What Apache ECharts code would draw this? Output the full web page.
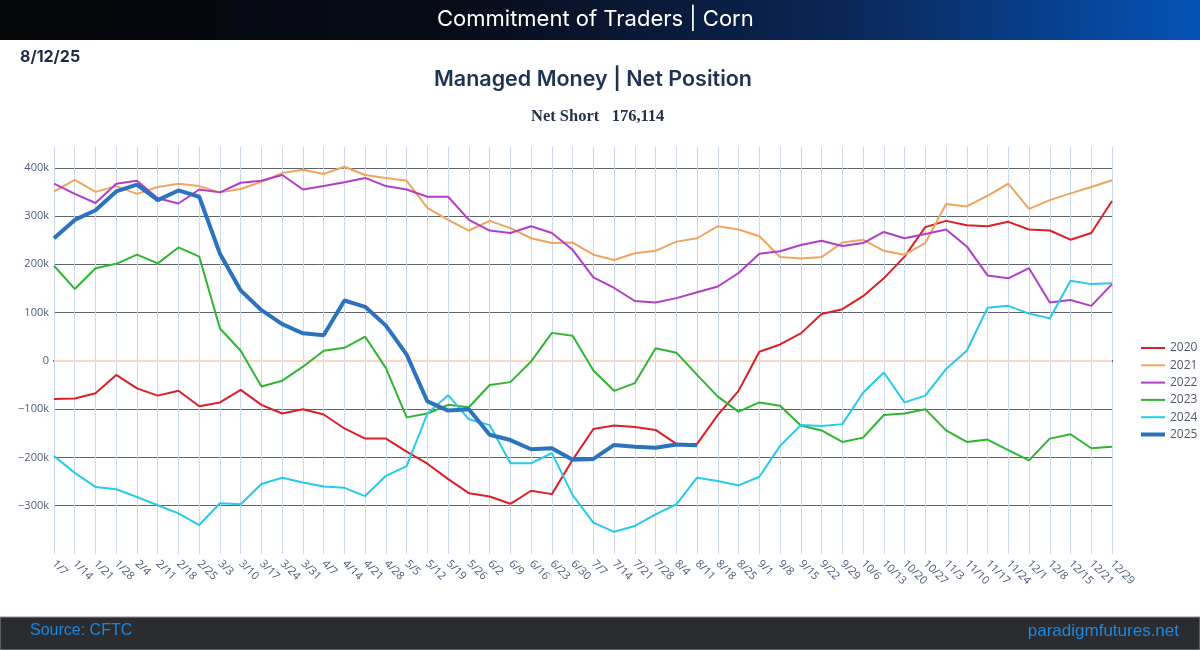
<!DOCTYPE html>
<html>
<head>
<meta charset="utf-8">
<title>Managed Money | Net Position</title>
<script src="https://cdn.jsdelivr.net/npm/echarts@6/dist/echarts.min.js"></script>
<style>
  html, body { margin: 0; padding: 0; background: #fff; }
  #chart { width: 1200px; height: 650px; }
</style>
</head>
<body>
<div id="chart"></div>
<script>
// weekly report dates
var weeks = ['1/7', '1/14', '1/21', '1/28', '2/4', '2/11', '2/18', '2/25', '3/3', '3/10',
  '3/17', '3/24', '3/31', '4/7', '4/14', '4/21', '4/28', '5/5', '5/12', '5/19', '5/26',
  '6/2', '6/9', '6/16', '6/23', '6/30', '7/7', '7/14', '7/21', '7/28', '8/4', '8/11',
  '8/18', '8/25', '9/1', '9/8', '9/15', '9/22', '9/29', '10/6', '10/13', '10/20', '10/27',
  '11/3', '11/10', '11/17', '11/24', '12/1', '12/8', '12/15', '12/21', '12/29']

// net position, contracts
var y2020 = [-79000, -78000, -67000, -29000, -57000, -72000, -62000, -94000, -86000, -60000,
  -91000, -109000, -100000, -111000, -140000, -161000, -161000, -188000, -213000, -245000,
  -274000, -281000, -296000, -269000, -276000, -205000, -141000, -134000, -137000, -143000,
  -172000, -172000, -112000, -62000, 19000, 34000, 57000, 97000, 107000, 134000, 171000,
  216000, 277000, 290000, 281000, 279000, 288000, 272000, 270000, 251000, 265000, 331000]
var y2021 = [351000, 375000, 350000, 362000, 346000, 360000, 367000, 362000, 349000, 356000,
  371000, 389000, 396000, 387000, 402000, 385000, 379000, 373000, 317000, 292000, 270000,
  290000, 275000, 254000, 244000, 245000, 220000, 209000, 223000, 228000, 247000, 254000,
  279000, 272000, 258000, 215000, 212000, 215000, 245000, 251000, 228000, 220000, 244000,
  325000, 320000, 342000, 367000, 315000, 333000, 347000, 360000, 374000]
var y2022 = [367000, 346000, 327000, 367000, 373000, 337000, 326000, 355000, 349000, 369000,
  373000, 385000, 355000, 362000, 370000, 379000, 362000, 355000, 340000, 340000, 292000,
  270000, 265000, 279000, 265000, 230000, 173000, 151000, 124000, 121000, 130000, 142000,
  154000, 182000, 222000, 227000, 240000, 249000, 238000, 244000, 267000, 254000, 263000,
  272000, 237000, 177000, 171000, 192000, 121000, 126000, 114000, 159000]
var y2023 = [197000, 149000, 192000, 201000, 220000, 202000, 235000, 216000, 67000, 21000,
  -53000, -41000, -12000, 21000, 27000, 50000, -15000, -117000, -109000, -91000, -96000,
  -50000, -44000, -1000, 58000, 52000, -20000, -62000, -46000, 26000, 17000, -29000,
  -74000, -105000, -86000, -93000, -134000, -144000, -168000, -159000, -112000, -109000,
  -100000, -144000, -168000, -163000, -185000, -206000, -161000, -152000, -181000, -178000]
var y2024 = [-197000, -232000, -261000, -266000, -282000, -299000, -316000, -340000, -295000,
  -297000, -255000, -242000, -252000, -260000, -263000, -280000, -238000, -218000, -109000,
  -71000, -121000, -133000, -212000, -212000, -191000, -278000, -335000, -354000, -342000,
  -318000, -297000, -242000, -249000, -258000, -240000, -176000, -133000, -135000, -131000,
  -66000, -24000, -86000, -72000, -17000, 21000, 110000, 114000, 98000, 88000, 166000,
  159000, 161000]
var y2025 = [254000, 292000, 312000, 351000, 365000, 333000, 353000, 340000, 222000, 146000,
  105000, 76000, 57000, 53000, 125000, 112000, 73000, 13000, -84000, -103000, -100000,
  -153000, -164000, -183000, -181000, -205000, -203000, -174000, -178000, -180000,
  -173000, -175000]

var chart = echarts.init(document.getElementById('chart'), null, { renderer: 'canvas' })

function yearLine(name, data, color, width) {
  return {
    name: name,
    type: 'line',
    data: data,
    symbol: 'none',
    smooth: false,
    animation: false,
    lineStyle: { color: color, width: width },
    itemStyle: { color: color }
  }
}

var series = [
  yearLine('2020', y2020, '#dc1f26', 2),
  yearLine('2021', y2021, '#f0a55e', 2),
  yearLine('2022', y2022, '#b03ec6', 2),
  yearLine('2023', y2023, '#2fb52f', 2),
  yearLine('2024', y2024, '#27c9ec', 2),
  yearLine('2025', y2025, '#2b72bf', 4)
]
// zero line in peach, like the source
series[0].markLine = {
  silent: true,
  symbol: 'none',
  label: { show: false },
  lineStyle: { color: '#fdd6c2', width: 2, type: 'solid' },
  data: [{ yAxis: 0 }],
  z: 1
}

// plain line swatches for the legend (no dot)
var thinIcon = 'path://M0,0H24V2H0Z'
var thickIcon = 'path://M0,0H24V4H0Z'

var option = {
  backgroundColor: '#ffffff',
  animation: false,
  graphic: [
    {
      type: 'rect',
      shape: { x: 0, y: 0, width: 1200, height: 40 },
      style: {
        fill: new echarts.graphic.LinearGradient(0, 0, 1, 0, [
          { offset: 0, color: '#040507' },
          { offset: 0.38, color: '#070c18' },
          { offset: 0.7, color: '#0b2656' },
          { offset: 1, color: '#0453b6' }
        ])
      },
      z: 0
    },
    {
      type: 'rect',
      shape: { x: 0, y: 617, width: 1200, height: 33 },
      style: { fill: '#2a2c30', stroke: '#8a8d92', lineWidth: 1 },
      z: 0
    }
  ],
  title: [
    {
      text: 'Commitment of Traders | Corn',
      left: 432,
      top: 3,
      textStyle: { color: '#ffffff', fontFamily: 'Inter', fontWeight: 'normal', fontSize: 22 }
    },
    {
      text: '8/12/25',
      left: 15,
      top: 44,
      textStyle: { color: '#1d2a44', fontFamily: 'Inter', fontWeight: 'bold', fontSize: 16 }
    },
    {
      text: 'Managed Money | Net Position',
      left: 429,
      top: 64,
      textStyle: { color: '#1e3350', fontFamily: 'Inter', fontWeight: 600, fontSize: 21.5 }
    },
    {
      text: 'Net Short   176,114',
      left: 526,
      top: 103,
      textStyle: { color: '#27324d', fontFamily: 'Liberation Serif', fontWeight: 'bold', fontSize: 16.5 }
    },
    {
      text: 'Source: CFTC',
      left: 25,
      top: 618,
      textStyle: { color: '#1f86dd', fontFamily: 'Liberation Sans Narrow, Liberation Sans', fontWeight: 'normal', fontSize: 16 }
    },
    {
      text: 'paradigmfutures.net',
      right: 16,
      top: 618,
      textStyle: { color: '#1f86dd', fontFamily: 'Liberation Sans Narrow, Liberation Sans', fontWeight: 'normal', fontSize: 17 }
    }
  ],
  legend: {
    orient: 'vertical',
    left: 1136,
    top: 337,
    itemWidth: 24,
    itemHeight: 12,
    itemGap: 5.3,
    symbolKeepAspect: true,
    textStyle: { color: '#4f596b', fontFamily: 'Open Sans', fontSize: 12 },
    data: [
      { name: '2020', icon: thinIcon },
      { name: '2021', icon: thinIcon },
      { name: '2022', icon: thinIcon },
      { name: '2023', icon: thinIcon },
      { name: '2024', icon: thinIcon },
      { name: '2025', icon: thickIcon }
    ]
  },
  grid: {
    left: 54,
    right: 88,
    top: 147,
    bottom: 96,
    containLabel: false
  },
  xAxis: {
    type: 'category',
    data: weeks,
    boundaryGap: false,
    axisLine: { show: true, lineStyle: { color: '#2a3d6c', width: 2 } },
    axisTick: { show: false },
    axisLabel: {
      interval: 0,
      rotate: -45,
      margin: 8,
      color: '#4c5a77',
      fontFamily: 'Open Sans',
      fontSize: 11
    },
    splitLine: { show: true, interval: 0, lineStyle: { color: '#cbd8ec', width: 1 } }
  },
  yAxis: {
    type: 'value',
    min: -400000,
    max: 443000,
    interval: 100000,
    axisLine: { show: false },
    axisTick: { show: false },
    axisLabel: {
      showMinLabel: false,
      showMaxLabel: false,
      margin: 5,
      color: '#4c5a77',
      fontFamily: 'Open Sans',
      fontSize: 11,
      formatter: function (v) {
        if (v === 0) return '0'
        return (v < 0 ? '\u2212' : '') + Math.abs(v / 1000) + 'k'
      }
    },
    splitLine: {
      show: true,
      showMinLine: false,
      showMaxLine: false,
      lineStyle: { color: '#5d6470', width: 1 }
    }
  },
  series: series
}

chart.setOption(option)
</script>
</body>
</html>
